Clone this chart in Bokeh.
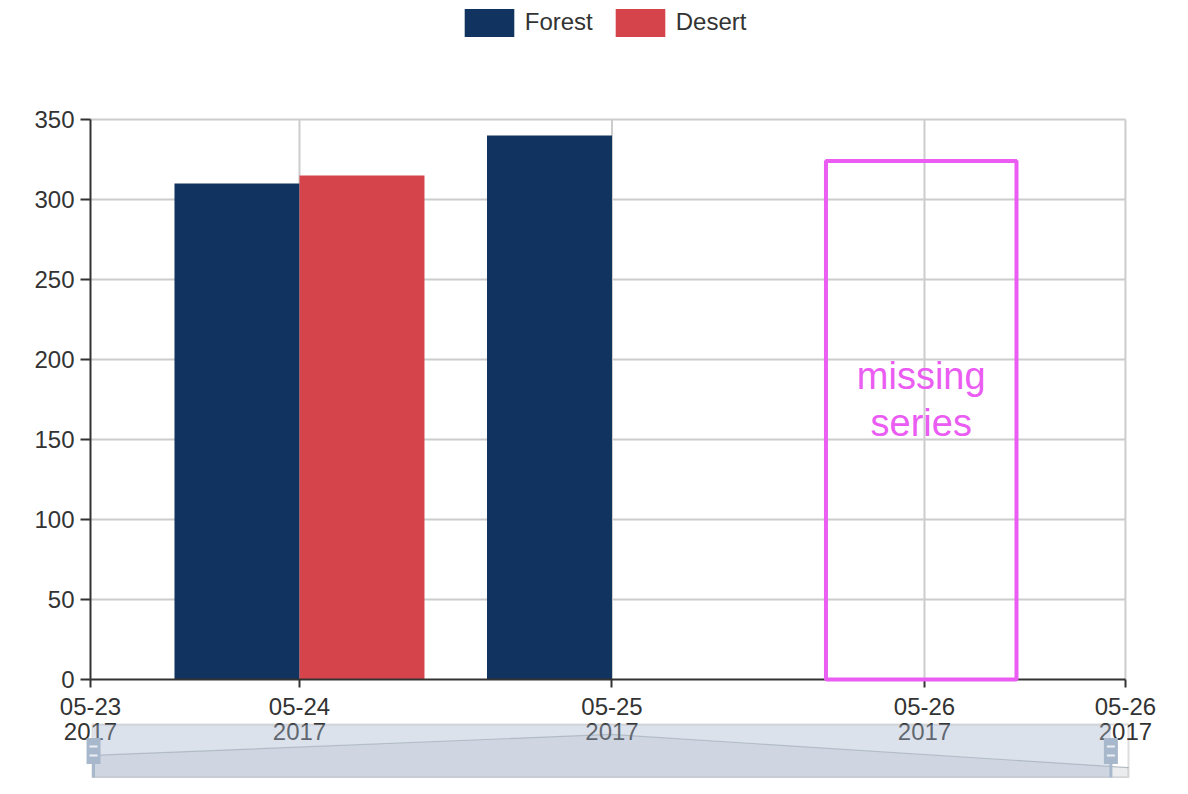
import numpy as np
import pandas as pd
from bokeh.plotting import figure
from bokeh.models import Range1d, FixedTicker, Legend, LegendItem, ColumnDataSource
from bokeh.core.properties import value
from bokeh.embed import file_html
from bokeh.resources import INLINE

# ---------------- data ----------------
dates = ["2017-05-24", "2017-05-25", "2017-05-26"]
forest = [310, 340, np.nan]
desert = [315, np.nan, np.nan]
series_names = ["Forest", "Desert"]
series_colors = ["#10335f", "#d5444a"]

y_ticks = [0, 50, 100, 150, 200, 250, 300, 350]
axis_min = "2017-05-23 07:57"
axis_max = "2017-05-26 15:26"
tick_dates = [axis_min, "2017-05-24", "2017-05-25", "2017-05-26", axis_max]
tick_labels = ["05-23\n2017", "05-24\n2017", "05-25\n2017", "05-26\n2017", "05-26\n2017"]

missing_start = "2017-05-25 16:26"
missing_end = "2017-05-26 07:04"
missing_top = 324
missing_label = "missing\nseries"
missing_label_y = 175

shadow_values = [321, 340, 310]
zoom_start = 0.1   # percent
zoom_end = 98.3    # percent

# ---------------- layout ----------------
FONT = "Liberation Sans"
W, H = 1172, 778
PLOT_LEFT, PLOT_TOP, PLOT_BOTTOM = 90, 119, 679   # pixel positions of the value grid
PX_PER_DAY = 312.5
SL_LEFT, SL_RIGHT, SL_TOP, SL_BOTTOM = 92, 1128, 724, 777
# legend swatch as drawn: 50 x 28 at (464, 8); bokeh insets swatches by 10 %
SW_W, SW_H = 50 / 0.8, 28 / 0.8
LEGEND_X = 464 - (SW_W - 50) / 2
LEGEND_TOP = 8 - (SW_H - 28) / 2

base = pd.Timestamp(dates[0])


def to_days(s):
    return (pd.Timestamp(s) - base) / pd.Timedelta(days=1)


x_days = np.array([to_days(d) for d in dates])
x_min = to_days(axis_min)
x_max = to_days(axis_max)
ticks_x = [to_days(d) for d in tick_dates]

y_top = y_ticks[-1]
px_per_unit = (PLOT_BOTTOM - PLOT_TOP) / y_top
x_start = x_min - PLOT_LEFT / PX_PER_DAY
x_end = x_start + W / PX_PER_DAY
y_end = y_top + PLOT_TOP / px_per_unit
y_start = -(H - PLOT_BOTTOM) / px_per_unit

p = figure(
    width=W, height=H, frame_width=W, frame_height=H,
    min_border=0, min_border_left=0, min_border_right=0, min_border_top=0, min_border_bottom=0,
    x_range=Range1d(x_start, x_end), y_range=Range1d(y_start, y_end),
    output_backend="svg", toolbar_location=None, tools="",
)
p.outline_line_color = None
p.xgrid.visible = False
p.ygrid.visible = False
p.background_fill_color = "white"
p.border_fill_color = "white"

# slider ranges (0..1 across the slider box)
sw = SL_RIGHT - SL_LEFT
sh = SL_BOTTOM - SL_TOP
p.extra_x_ranges = {"sx": Range1d(-SL_LEFT / sw, (W - SL_LEFT) / sw)}
p.extra_y_ranges = {"sy": Range1d(-(H - SL_BOTTOM) / sh, SL_BOTTOM / sh)}

# ---- grid lines ----
grid_color = "#cccccc"
p.segment(x0=[x_min] * (len(y_ticks) - 1), x1=[x_max] * (len(y_ticks) - 1),
          y0=y_ticks[1:], y1=y_ticks[1:], line_color=grid_color, line_width=2, level="underlay")
p.segment(x0=ticks_x[1:], x1=ticks_x[1:], y0=[0] * (len(ticks_x) - 1),
          y1=[y_top] * (len(ticks_x) - 1), line_color=grid_color, line_width=2, level="underlay")

# ---- bars ----
bar_w = 0.4
offsets = [-bar_w / 2, bar_w / 2]
renderers = []
for vals, off, col in zip([forest, desert], offsets, series_colors):
    src = ColumnDataSource(dict(x=x_days + off, top=np.array(vals, dtype=float)))
    r = p.vbar(x="x", top="top", bottom=0, width=bar_w, source=src,
               fill_color=col, line_color=None)
    renderers.append(r)

# ---- missing series annotation ----
mc = "#ea5cf2"
p.quad(left=[to_days(missing_start)], right=[to_days(missing_end)], bottom=[0], top=[missing_top],
       fill_color=None, line_color=mc, line_width=4, level="overlay")
p.text(x=[(to_days(missing_start) + to_days(missing_end)) / 2], y=[missing_label_y],
       text=[missing_label], text_color=mc, text_font=value(FONT), text_font_size="38px",
       text_align="center", text_baseline="middle", text_line_height=1.1)

# ---- axes (fixed inside the frame) ----
ax_color = "#333333"
yax = p.yaxis[0]
yax.ticker = FixedTicker(ticks=y_ticks)
yax.bounds = (0, y_top)
yax.fixed_location = x_min
xax = p.xaxis[0]
xax.ticker = FixedTicker(ticks=ticks_x)
xax.major_label_overrides = {t: lab for t, lab in zip(ticks_x, tick_labels)}
xax.bounds = (x_min, x_max)
xax.fixed_location = 0
for ax in (xax, yax):
    ax.axis_line_color = ax_color
    ax.axis_line_width = 2
    ax.major_tick_line_color = ax_color
    ax.major_tick_line_width = 2
    ax.major_tick_in = 0
    ax.minor_tick_line_color = None
    ax.major_label_text_font = FONT
    ax.major_label_text_font_size = "24px"
    ax.major_label_text_color = ax_color
yax.major_tick_out = 10
yax.major_label_standoff = 6
xax.major_tick_out = 8
xax.major_label_standoff = 5
xax.major_label_text_line_height = 0.95

# ---- legend ----
legend = Legend(
    items=[LegendItem(label=n, renderers=[r]) for n, r in zip(series_names, renderers)],
    orientation="horizontal", location=(LEGEND_X, H - LEGEND_TOP - SW_H),
    glyph_width=int(round(SW_W)), glyph_height=int(round(SW_H)), label_height=int(round(SW_H)),
    label_standoff=5, spacing=16,
    padding=0, margin=0, border_line_color=None, background_fill_alpha=0,
    label_text_font=FONT, label_text_font_size="24px", label_text_color="#333333",
)
p.add_layout(legend, "center")

# ---- data zoom slider ----
p.quad(left=[0], right=[1], bottom=[0], top=[1], fill_color=None, line_color="#dddddd",
       line_width=2, x_range_name="sx", y_range_name="sy")
sv = np.array(shadow_values, dtype=float)
rng = sv.max() - sv.min()
lo, hi = sv.min() - 0.3 * rng, sv.max() + 0.3 * rng
sfrac = (sv - lo) / (hi - lo)
sxs = np.linspace(0, 1, len(sv))
p.patch(x=np.concatenate([[0], sxs, [1]]), y=np.concatenate([[0], sfrac, [0]]),
        fill_color="#2f4554", fill_alpha=0.1, line_color=None,
        x_range_name="sx", y_range_name="sy")
p.line(x=sxs, y=sfrac, line_color="#2f4554", line_alpha=0.3, line_width=1.2,
       x_range_name="sx", y_range_name="sy")
zs, ze = zoom_start / 100, zoom_end / 100
p.quad(left=[zs], right=[ze], bottom=[0], top=[1], fill_color="#a7b7cc", fill_alpha=0.4,
       line_color=None, x_range_name="sx", y_range_name="sy", level="overlay")
hc = "#a7b7cc"
p.segment(x0=[zs, ze], x1=[zs, ze], y0=[0, 0], y1=[0.5, 0.5], line_color=hc, line_width=3,
          x_range_name="sx", y_range_name="sy", level="overlay")
p.rect(x=[zs, ze], y=[0.5, 0.5], width=14, height=26, width_units="screen", height_units="screen",
       fill_color=hc, line_color=None, x_range_name="sx", y_range_name="sy", level="overlay")
p.rect(x=[zs, ze, zs, ze], y=[0.5 + 4.5 / sh] * 2 + [0.5 - 4.5 / sh] * 2, width=8, height=2,
       width_units="screen", height_units="screen", fill_color="white", fill_alpha=0.8,
       line_color=None, x_range_name="sx", y_range_name="sy", level="overlay")

open("out.html", "w").write(file_html(p, INLINE))
